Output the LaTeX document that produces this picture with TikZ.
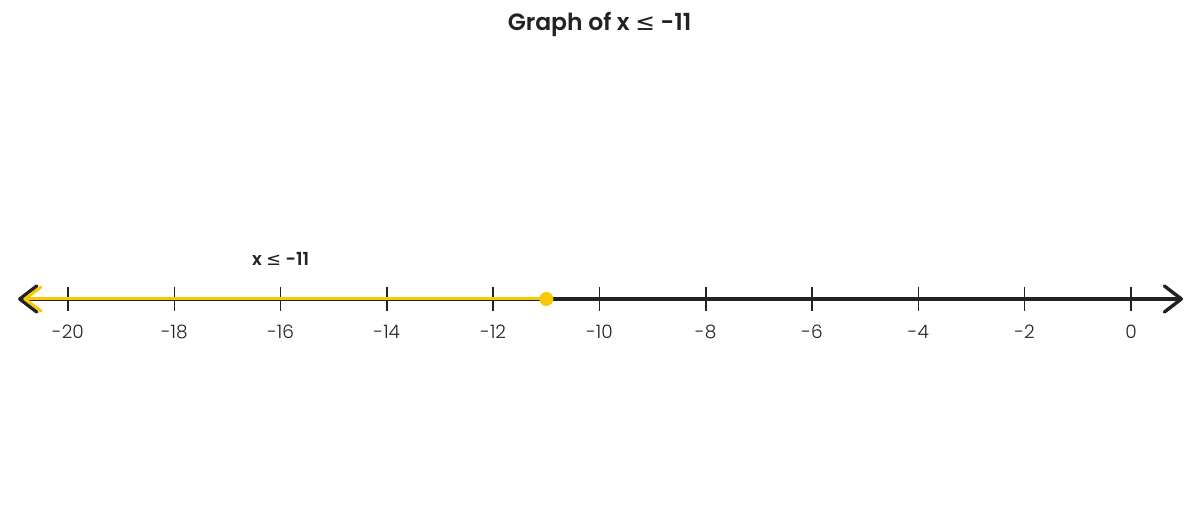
\documentclass[tikz,border=0pt]{standalone}
\usepackage{fontspec}
\setmainfont{Poppins Light}
\newfontfamily\headfont{Poppins SemiBold}
\newfontfamily\symfont{DejaVu Sans}
\usetikzlibrary{arrows.meta}

\definecolor{axisblack}{HTML}{222222}
\definecolor{solyellow}{HTML}{F8C800}

\newcommand{\leqsym}{{\symfont ≤}}

\tikzset{
  axisline/.style={axisblack, line width=3.6pt, line cap=round},
  solline/.style={solyellow, line width=3pt},
  barb/.style={-{Straight Barb[length=17pt, width=26pt, line width=3.4pt, round]}},
  ticklabel/.style={font=\fontsize{18.5}{22}\selectfont, text=axisblack},
}

\begin{document}
\begin{tikzpicture}[x=53.15pt, y=1pt]
\useasboundingbox (-21.28,-231) rectangle (1.298,299);
\fill[white] (-21.28,-231) rectangle (1.298,299);

% axis
\coordinate (lefttip) at (-20.94,0);
\coordinate (righttip) at (0.98,0);
\coordinate (sollefttip) at (-20.84,0);
\draw[axisline, barb] (0,0) -- (righttip);
\draw[axisline, barb] (0,0) -- (lefttip);

% ticks and labels
\foreach \v in {-20,-18,...,0}{
  \draw[axisblack, line width=1.5pt] (\v,-12) -- (\v,12);
  \node[ticklabel] (tick\v) at (\v,-33) {\ifnum\v<0 -\fi\the\numexpr\ifnum\v<0 -\fi\v\relax};
}

% solution ray
\node[circle, fill=solyellow, inner sep=0pt, minimum size=14pt] (endpt) at (-11,0) {};
\draw[solline, -{Straight Barb[length=16pt, width=24pt, line width=3pt, round]}] (endpt.center) -- (sollefttip);

% texts
\node[font=\headfont\fontsize{18}{22}\selectfont, text=axisblack] (sollabel) at (-16,40) {x \leqsym\ -11};
\node[font=\headfont\fontsize{23.5}{28}\selectfont, text=axisblack] (title) at (-10,275) {Graph of x \leqsym\ -11};
\end{tikzpicture}
\end{document}
